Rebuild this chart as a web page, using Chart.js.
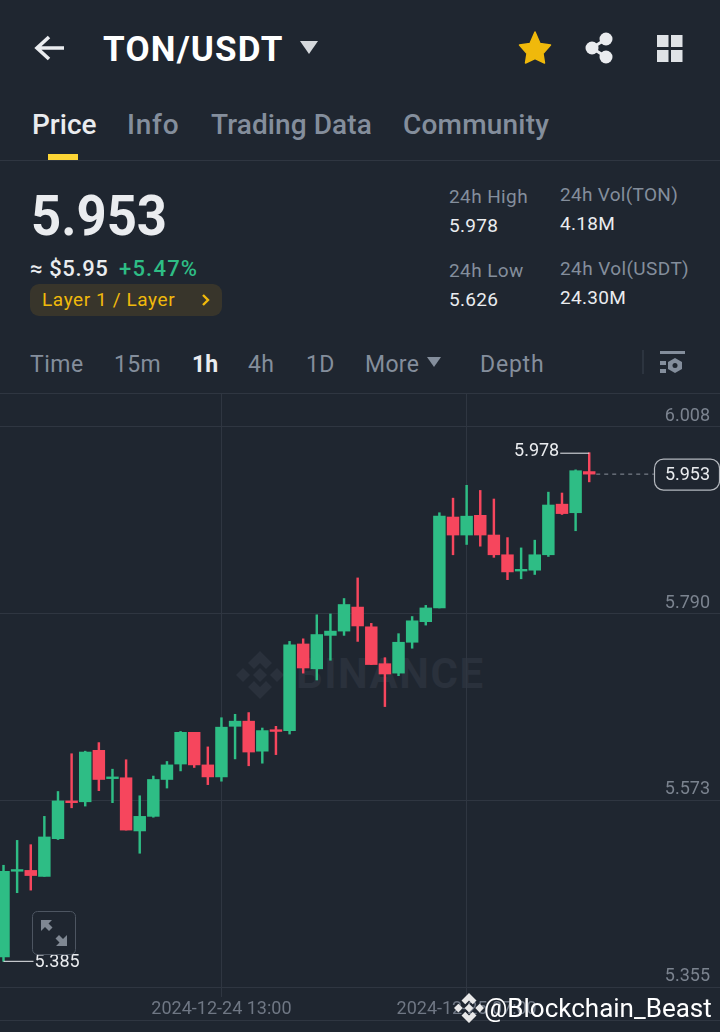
<!DOCTYPE html>
<html><head><meta charset="utf-8">
<script src="https://cdn.jsdelivr.net/npm/chart.js@4/dist/chart.umd.min.js"></script>
<style>
html,body{margin:0;padding:0;background:#1f2630;width:720px;height:1032px;overflow:hidden;font-family:Roboto,sans-serif}
.t{position:absolute;line-height:40px;height:40px;white-space:nowrap;color:#848e9c}
.w{color:#eaecef}
.l{position:absolute;left:0;width:720px;height:1px;background:#2f3641}
svg{position:absolute;overflow:visible}
#wrap{position:absolute;left:0;top:393px;width:720px;height:628px}
</style></head><body>
<svg style="left:0;top:0" width="720" height="400">
<path d="M64 48H38M49 37L37 48L49 59" fill="none" stroke="#eaecef" stroke-width="3.6"/>
<path d="M300 41H318L309 54Z" fill="#d5d8dc"/>
<path d="M535 32L540 43.5L550.5 45L543 53.5L544.500 63L535 58.500L525.500 63L527 53.500L519.500 45L530 43.500Z" fill="#f0b90b" stroke="#f0b90b" stroke-width="1.5" stroke-linejoin="round"/>
<circle cx="606" cy="39" r="6.500" fill="#eaecef"/><circle cx="592" cy="48" r="6.500" fill="#eaecef"/><circle cx="606" cy="57" r="6.500" fill="#eaecef"/>
<path d="M606 39L592 48L606 57" stroke="#eaecef" stroke-width="3" fill="none"/>
<path d="M657 35h11.500v12h-11.500zM671 35h11.500v12h-11.500zM657 50h11.500v12h-11.500zM671 50h11.500v12h-11.500z" fill="#dfe2e6"/>
<rect x="48" y="154" width="30" height="6" fill="#fcd535"/>
<rect x="30" y="284" width="192" height="32" rx="9" fill="#38352b"/>
<path d="M203 295L208 300L203 305" fill="none" stroke="#f0b90b" stroke-width="2.400"/>
<path d="M427 357H441L434 367Z" fill="#848e9c"/>
<rect x="642.500" y="350" width="1" height="24" fill="#3a424e"/>
<path d="M660 351h25v3h-25zM660 361h6v4h-6zM660 369h6v4h-6z" fill="#848e9c"/>
<path d="M675 358l7 4v7l-7 4l-7-4v-7z" fill="#848e9c"/><circle cx="675" cy="365.500" r="2.500" fill="#1f2630"/>
</svg>
<div class="t" style="left:103px;top:30px;font-size:35px;font-weight:700;color:#fff;letter-spacing:1.2px">TON/USDT</div>
<div class="t w" style="left:32px;top:105px;font-size:28px;font-weight:500">Price</div>
<div class="t" style="left:127px;top:105px;font-size:28px;font-weight:500;letter-spacing:.8px">Info</div>
<div class="t" style="left:211px;top:105px;font-size:28px;font-weight:500;letter-spacing:.1px">Trading Data</div>
<div class="t" style="left:403px;top:105px;font-size:28px;font-weight:500;letter-spacing:.2px">Community</div>
<div class="l" style="top:160px"></div>
<div class="t" style="left:31px;top:196px;font-size:56px;font-weight:700;color:#eaecef;transform:scaleX(.94);transform-origin:left center">5.953</div>
<div class="t w" style="left:30px;top:249px;font-size:22px;font-weight:500;letter-spacing:.6px">≈ $5.95</div>
<div class="t" style="left:119px;top:249px;font-size:22px;font-weight:500;color:#2ebd85;letter-spacing:1.2px">+5.47%</div>
<div class="t" style="left:42px;top:280px;font-size:19px;color:#f0b90b;letter-spacing:.6px">Layer 1 / Layer</div>
<div class="t" style="left:449px;top:177px;font-size:19px;letter-spacing:.4px">24h High</div>
<div class="t w" style="left:449px;top:206px;font-size:19px;letter-spacing:.3px">5.978</div>
<div class="t" style="left:560px;top:175px;font-size:19px;letter-spacing:.3px">24h Vol(TON)</div>
<div class="t w" style="left:560px;top:204px;font-size:19px;letter-spacing:.3px">4.18M</div>
<div class="t" style="left:449px;top:251px;font-size:19px;letter-spacing:.4px">24h Low</div>
<div class="t w" style="left:449px;top:280px;font-size:19px;letter-spacing:.3px">5.626</div>
<div class="t" style="left:560px;top:249px;font-size:19px;letter-spacing:.4px">24h Vol(USDT)</div>
<div class="t w" style="left:560px;top:278px;font-size:19px;letter-spacing:.3px">24.30M</div>
<div class="t" style="left:30px;top:345px;font-size:23px;letter-spacing:.5px">Time</div>
<div class="t" style="left:114px;top:345px;font-size:23px;letter-spacing:.3px">15m</div>
<div class="t" style="left:192px;top:345px;font-size:23px;font-weight:700;color:#eaecef">1h</div>
<div class="t" style="left:248px;top:345px;font-size:23px;letter-spacing:.3px">4h</div>
<div class="t" style="left:306px;top:345px;font-size:23px;letter-spacing:.3px">1D</div>
<div class="t" style="left:365px;top:345px;font-size:23px;letter-spacing:.3px">More</div>
<div class="t" style="left:480px;top:345px;font-size:23px;letter-spacing:.8px">Depth</div>
<div class="l" style="top:393px"></div>
<div class="l" style="top:1020px"></div>
<svg style="left:236px;top:651px" width="48" height="48" viewBox="0 0 48 48"><g fill="#2a313c"><path d="M24 0L36 12L30 18L24 12L18 18L12 12Z"/><path d="M24 48L36 36L30 30L24 36L18 30L12 36Z"/><path d="M0 24L7 17L14 24L7 31Z"/><path d="M48 24L41 17L34 24L41 31Z"/><path d="M24 17L31 24L24 31L17 24Z"/></g></svg>
<div class="t" style="left:296px;top:654px;font-size:42px;font-weight:700;color:#2a313c;letter-spacing:1.500px">BINANCE</div>
<div id="wrap"><canvas id="c" width="720" height="628"></canvas></div>
<svg style="left:32px;top:911px" width="44" height="44" viewBox="0 0 44 44"><rect x=".5" y=".5" width="43" height="43" rx="5" fill="#1f2630" stroke="#4d5561"/><path d="M9 9h11l-3.500 3.500l4 4l-3.500 3.500l-4-4L9 20zM35 35H24l3.500-3.500l-4-4l3.500-3.500l4 4L35 24z" fill="#7f8792"/></svg>
<svg style="left:454px;top:993px" width="30" height="30" viewBox="0 0 48 48"><g fill="#e8e8e8"><path d="M24 0L36 12L30 18L24 12L18 18L12 12Z"/><path d="M24 48L36 36L30 30L24 36L18 30L12 36Z"/><path d="M0 24L7 17L14 24L7 31Z"/><path d="M48 24L41 17L34 24L41 31Z"/><path d="M24 17L31 24L24 31L17 24Z"/></g></svg>
<div class="t" style="left:484px;top:988px;font-size:26px;color:#fff;z-index:3">@Blockchain_Beast</div>
<script>
const times=["12-23 21:00","12-23 22:00","12-23 23:00","12-24 00:00","12-24 01:00","12-24 02:00","12-24 03:00","12-24 04:00","12-24 05:00","12-24 06:00","12-24 07:00","12-24 08:00","12-24 09:00","12-24 10:00","12-24 11:00","12-24 12:00","12-24 13:00","12-24 14:00","12-24 15:00","12-24 16:00","12-24 17:00","12-24 18:00","12-24 19:00","12-24 20:00","12-24 21:00","12-24 22:00","12-24 23:00","12-25 00:00","12-25 01:00","12-25 02:00","12-25 03:00","12-25 04:00","12-25 05:00","12-25 06:00","12-25 07:00","12-25 08:00","12-25 09:00","12-25 10:00","12-25 11:00","12-25 12:00","12-25 13:00","12-25 14:00","12-25 15:00","12-25 16:00"];
const opens=[5.390,5.490,5.491,5.484,5.528,5.572,5.571,5.631,5.598,5.599,5.537,5.554,5.597,5.615,5.652,5.614,5.600,5.659,5.665,5.630,5.655,5.654,5.755,5.726,5.765,5.770,5.798,5.775,5.732,5.721,5.757,5.781,5.797,5.903,5.882,5.905,5.882,5.859,5.840,5.841,5.859,5.918,5.908,5.956];
const highs=[5.497,5.526,5.521,5.554,5.583,5.627,5.630,5.640,5.609,5.620,5.578,5.601,5.618,5.653,5.652,5.635,5.669,5.673,5.675,5.657,5.659,5.758,5.761,5.789,5.790,5.808,5.832,5.779,5.739,5.767,5.787,5.800,5.908,5.925,5.940,5.934,5.924,5.879,5.867,5.876,5.932,5.931,5.958,5.978];
const lows=[5.385,5.465,5.468,5.484,5.527,5.564,5.566,5.584,5.570,5.538,5.511,5.553,5.587,5.607,5.611,5.591,5.595,5.621,5.613,5.616,5.626,5.650,5.721,5.713,5.736,5.765,5.758,5.731,5.682,5.718,5.750,5.777,5.797,5.859,5.871,5.869,5.856,5.830,5.831,5.836,5.857,5.906,5.887,5.944];
const closes=[5.490,5.492,5.485,5.530,5.572,5.570,5.629,5.597,5.600,5.538,5.554,5.597,5.614,5.652,5.614,5.600,5.658,5.665,5.629,5.654,5.653,5.754,5.727,5.766,5.770,5.801,5.776,5.731,5.720,5.757,5.782,5.797,5.904,5.882,5.904,5.882,5.859,5.839,5.842,5.859,5.917,5.907,5.957,5.953];
const priceTicks=[5.355,5.573,5.790,6.008];
const timeTickIndex=[16,34];
const timeTickLabels=["2024-12-24 13:00","2024-12-25 07:00"];
const highLabel="5.978", lowLabel="5.385", lastLabel="5.953";
const GREEN="#2ebd85", RED="#f6465d";
const col=c=>closes[c.dataIndex]>=opens[c.dataIndex]?GREEN:RED;

const overlay={id:"overlay",afterDatasetsDraw(ch){
  const g=ch.ctx,x=ch.scales.x,y=ch.scales.y;
  g.save();
  g.font='18px Roboto';g.fillStyle='#eaecef';g.textBaseline='middle';
  const hi=highs.indexOf(Math.max(...highs)),hx=x.getPixelForValue(hi),hy=y.getPixelForValue(highs[hi]);
  g.strokeStyle='#eaecef';g.lineWidth=1;
  g.beginPath();g.moveTo(hx,hy+.5);g.lineTo(hx-29,hy+.5);g.stroke();
  g.textAlign='right';g.fillText(highLabel,hx-30,hy-1);
  const lo=lows.indexOf(Math.min(...lows)),lx=x.getPixelForValue(lo),ly=y.getPixelForValue(lows[lo]);
  g.beginPath();g.moveTo(lx,ly);g.lineTo(lx+30,ly);g.stroke();
  g.textAlign='left';g.fillText(lowLabel,lx+31,ly+1);
  const n=closes.length-1,ex=x.getPixelForValue(n)+7,ey=y.getPixelForValue(closes[n]);
  g.strokeStyle='#8b919b';g.setLineDash([4,4]);
  g.beginPath();g.moveTo(ex,ey);g.lineTo(654,ey);g.stroke();g.setLineDash([]);
  g.strokeStyle='#b4b8be';g.lineWidth=1.200;g.fillStyle='#1f2630';
  g.beginPath();g.roundRect(654.500,ey-15,65,31,9);g.fill();g.stroke();
  g.fillStyle='#eaecef';g.textAlign='center';g.fillText(lastLabel,687.500,ey+1);
  g.restore();
}};

new Chart(document.getElementById("c"),{
  type:"bar",
  data:{labels:times,datasets:[
    {label:"Body",grouped:false,barThickness:11.800,order:1,
     data:times.map((t,i)=>({x:i,y:[opens[i],closes[i]]})),backgroundColor:col,borderWidth:0},
    {label:"Wick",grouped:false,barThickness:1.800,order:2,
     data:times.map((t,i)=>({x:i,y:[lows[i],highs[i]]})),backgroundColor:col,borderWidth:0}
  ]},
  plugins:[overlay],
  options:{
    responsive:false,animation:false,
    layout:{padding:0},
    plugins:{legend:{display:false},tooltip:{enabled:false}},
    scales:{
      x:{type:"linear",offset:false,min:-0.257,max:52.6,
        afterBuildTicks(a){a.ticks=timeTickIndex.map(v=>({value:v}))},
        afterFit(a){a.height=24;a.paddingLeft=0;a.paddingRight=0},
        grid:{offset:false,color:"#2f3641",lineWidth:1,drawTicks:false},
        border:{display:false},
        ticks:{autoSkip:false,maxRotation:0,padding:2,color:"#6f7784",font:{size:18,family:"Roboto"},
          callback:(v)=>timeTickLabels[timeTickIndex.indexOf(v)]}},
      y:{type:"linear",position:"right",min:5.3434,max:6.0476,
        afterBuildTicks(a){a.ticks=priceTicks.map(v=>({value:v}))},
        afterFit(a){a.width=0;a.paddingTop=0;a.paddingBottom=0},
        grid:{color:"#2f3641",lineWidth:1,drawTicks:false},
        border:{display:false},
        ticks:{mirror:true,padding:-10,labelOffset:-10.500,color:"#7b838f",font:{size:18,family:"Roboto"},
          callback:(v)=>v.toFixed(3)}}
    }
  }
});
</script>
</body></html>
